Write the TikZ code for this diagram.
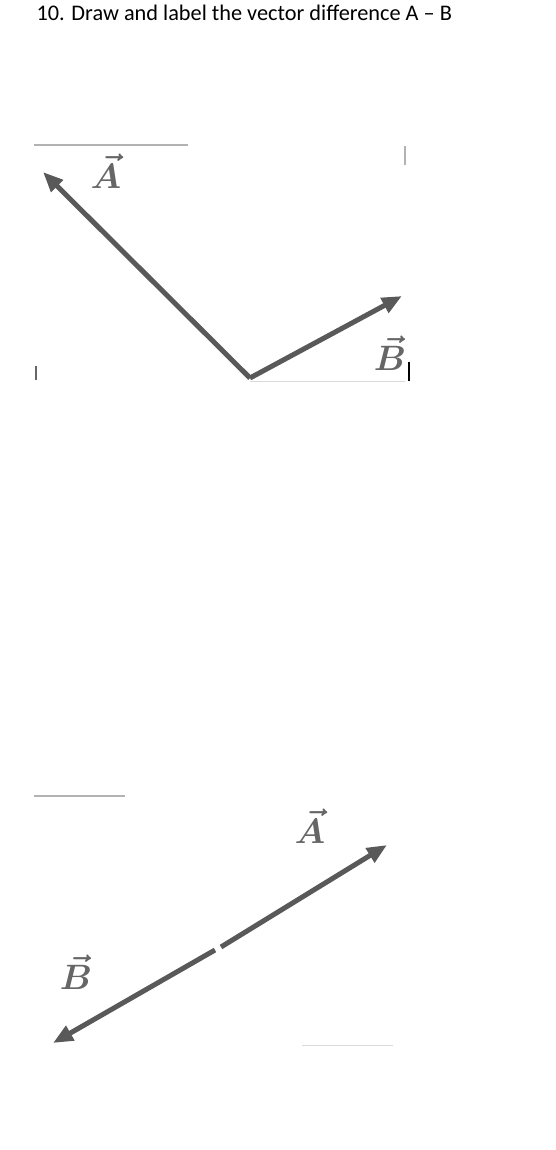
\documentclass[tikz,border=0pt]{standalone}
\usepackage{bm}
\usepackage{fontspec}
\setmainfont{Carlito}
\usepackage{tikz}
\usetikzlibrary{arrows.meta}

\begin{document}
\begin{tikzpicture}[x=1pt, y=-1pt,
      vector/.style = {draw=black!65, line width=5pt,
        -{Triangle[length=20pt,width=16pt]}},
      rule/.style = {draw=black!30, line width=2.5pt},
      hairline/.style = {draw=black!15, line width=1pt},
      veclabel/.style = {text=black!60, inner sep=0pt, scale=1.7,
        font=\fontsize{20.74}{24}\selectfont},
      title/.style = {anchor=base west, font=\fontsize{22.3}{26}\selectfont}]
      \useasboundingbox (0,0) rectangle (556,1150);
      \node[title] (question) at (33,21) {10. Draw and label the vector difference A – B};
      % first sketch
      \coordinate (origA) at (250,378);
      \coordinate (tipA) at (43,172);
      \coordinate (tipB) at (402,296);
      \draw[vector] (origA) -- (tipA);
      \draw[vector] (origA) -- (tipB);
      \node[veclabel] (labA) at (106,171) {$\bm{\vec{A}}$};
      \node[veclabel] (labB) at (390,353) {$\bm{\vec{B}}$};
      \draw[rule] (34,145) -- (188,145);
      \draw[rule] (405,146) -- (405,165);
      \draw[hairline] (250,381) -- (405,381);
      \draw[draw=black!60, line width=2pt] (36,366) -- (36,380);
      \draw[line width=1.5pt] (409,362) -- (409,381);
      % second sketch
      \coordinate (midA) at (221,947);
      \coordinate (midB) at (215,950);
      \coordinate (endA) at (387,845);
      \coordinate (endB) at (53,1043);
      \draw[vector] (midA) -- (endA);
      \draw[vector] (midB) -- (endB);
      \node[veclabel] (labAA) at (310,826) {$\bm{\vec{A}}$};
      \node[veclabel] (labBB) at (76,972) {$\bm{\vec{B}}$};
      \draw[rule] (34,796) -- (125,796);
      \draw[hairline] (302,1045) -- (393,1045);
\end{tikzpicture}
\end{document}
